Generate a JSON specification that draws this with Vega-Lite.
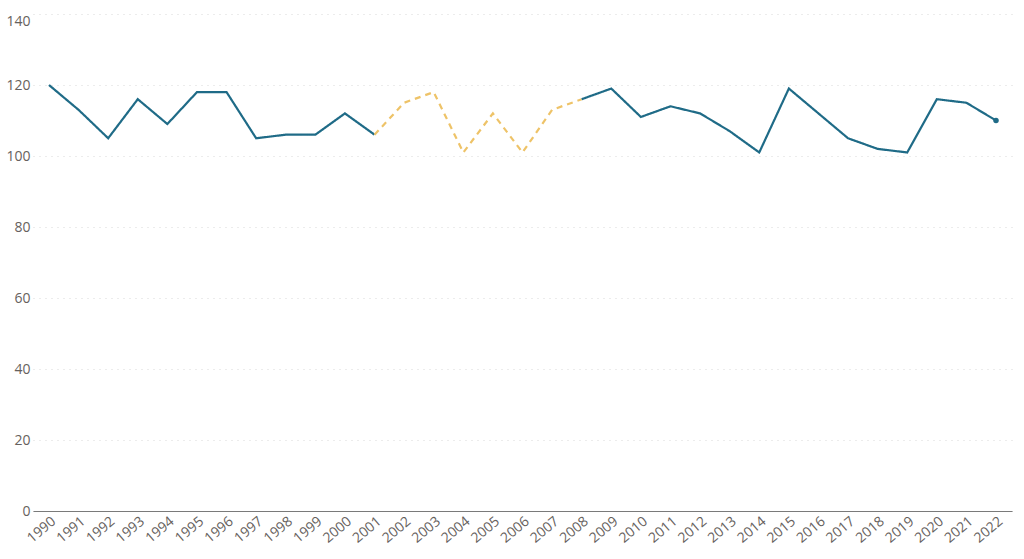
{
  "$schema": "https://vega.github.io/schema/vega-lite/v6.json",
  "background": "white",
  "autosize": "none",
  "width": 979,
  "height": 497,
  "padding": {"left": 33, "top": 14, "right": 12, "bottom": 48},
  "data": {
    "values": [
      {"year": "1990", "value": 120, "seg": "a", "kind": "actual"},
      {"year": "1991", "value": 113, "seg": "a", "kind": "actual"},
      {"year": "1992", "value": 105, "seg": "a", "kind": "actual"},
      {"year": "1993", "value": 116, "seg": "a", "kind": "actual"},
      {"year": "1994", "value": 109, "seg": "a", "kind": "actual"},
      {"year": "1995", "value": 118, "seg": "a", "kind": "actual"},
      {"year": "1996", "value": 118, "seg": "a", "kind": "actual"},
      {"year": "1997", "value": 105, "seg": "a", "kind": "actual"},
      {"year": "1998", "value": 106, "seg": "a", "kind": "actual"},
      {"year": "1999", "value": 106, "seg": "a", "kind": "actual"},
      {"year": "2000", "value": 112, "seg": "a", "kind": "actual"},
      {"year": "2001", "value": 106, "seg": "a", "kind": "actual"},
      {"year": "2001", "value": 106, "seg": "b", "kind": "estimate"},
      {"year": "2002", "value": 115, "seg": "b", "kind": "estimate"},
      {"year": "2003", "value": 118, "seg": "b", "kind": "estimate"},
      {"year": "2004", "value": 101, "seg": "b", "kind": "estimate"},
      {"year": "2005", "value": 112, "seg": "b", "kind": "estimate"},
      {"year": "2006", "value": 101, "seg": "b", "kind": "estimate"},
      {"year": "2007", "value": 113, "seg": "b", "kind": "estimate"},
      {"year": "2008", "value": 116, "seg": "b", "kind": "estimate"},
      {"year": "2008", "value": 116, "seg": "c", "kind": "actual"},
      {"year": "2009", "value": 119, "seg": "c", "kind": "actual"},
      {"year": "2010", "value": 111, "seg": "c", "kind": "actual"},
      {"year": "2011", "value": 114, "seg": "c", "kind": "actual"},
      {"year": "2012", "value": 112, "seg": "c", "kind": "actual"},
      {"year": "2013", "value": 107, "seg": "c", "kind": "actual"},
      {"year": "2014", "value": 101, "seg": "c", "kind": "actual"},
      {"year": "2015", "value": 119, "seg": "c", "kind": "actual"},
      {"year": "2016", "value": 112, "seg": "c", "kind": "actual"},
      {"year": "2017", "value": 105, "seg": "c", "kind": "actual"},
      {"year": "2018", "value": 102, "seg": "c", "kind": "actual"},
      {"year": "2019", "value": 101, "seg": "c", "kind": "actual"},
      {"year": "2020", "value": 116, "seg": "c", "kind": "actual"},
      {"year": "2021", "value": 115, "seg": "c", "kind": "actual"},
      {"year": "2022", "value": 110, "seg": "c", "kind": "actual"}
    ]
  },
  "encoding": {
    "x": {
      "field": "year",
      "type": "ordinal",
      "scale": {"type": "point", "padding": 0.54},
      "axis": {
        "title": null,
        "labelAngle": -40,
        "labelAlign": "right",
        "labelBaseline": "top",
        "labelPadding": 3,
        "ticks": false,
        "grid": false,
        "domainColor": "#7a7a7a",
        "domainWidth": 1
      }
    },
    "y": {
      "field": "value",
      "type": "quantitative",
      "scale": {"domain": [0, 140], "nice": false},
      "axis": {
        "title": null,
        "values": [0, 20, 40, 60, 80, 100, 120, 140],
        "domain": false,
        "ticks": false,
        "labelPadding": 3,
        "labelBaseline": {"condition": {"test": "datum.value == 140", "value": "top"}, "value": "middle"},
        "grid": true,
        "gridColor": "#d9d9d9",
        "gridDash": [1, 5],
        "gridWidth": 1
      }
    }
  },
  "layer": [
    {
      "mark": {"type": "line", "strokeWidth": 2.2},
      "encoding": {
        "detail": {"field": "seg"},
        "color": {
          "field": "kind",
          "type": "nominal",
          "scale": {"domain": ["actual", "estimate"], "range": ["#1f6b87", "#eec368"]},
          "legend": null
        },
        "strokeDash": {
          "field": "kind",
          "type": "nominal",
          "scale": {"domain": ["actual", "estimate"], "range": [[1, 0], [6, 5]]},
          "legend": null
        }
      }
    },
    {
      "transform": [{"filter": "datum.year == '2022'"}],
      "mark": {"type": "circle", "size": 30, "opacity": 1, "color": "#1f6b87"}
    }
  ],
  "config": {
    "view": {"stroke": null},
    "font": "Open Sans",
    "axis": {
      "labelFont": "Open Sans",
      "labelFontSize": 14,
      "labelColor": "#66615d"
    }
  }
}
